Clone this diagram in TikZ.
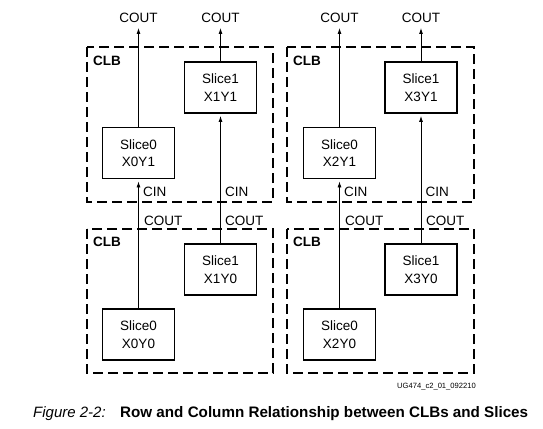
\documentclass[tikz,border=0pt]{standalone}
\usepackage{fontspec}
\setmainfont{Liberation Sans}
\usetikzlibrary{arrows.meta}
\begin{document}
\begin{tikzpicture}[x=1pt,y=-1pt,
  clb/.style={draw,line width=1.8pt,dash pattern=on 10pt off 5pt},
  slice/.style={draw,line width=1.8pt,minimum width=72pt,minimum height=51pt,inner sep=0pt,align=center,font=\fontsize{13.5}{17.5}\selectfont},
  lbl/.style={inner sep=0pt,font=\fontsize{13.5}{15}\selectfont},
  clbl/.style={inner sep=0pt,anchor=base west,font=\fontsize{13.5}{15}\selectfont\bfseries},
  carry/.style={line width=0.8pt,-{Latex[length=6pt,width=4pt]},shorten >=2pt}]
\useasboundingbox (0,0) rectangle (543,428);
% CLB boxes
\draw[clb] (87,47) rectangle (273,202);
\draw[clb] (87,229) rectangle (273,373);
\draw[clb] (287,47) rectangle (474,202);
\draw[clb] (287,229) rectangle (474,373);
\node[clbl] (clb1) at (93,65) {CLB};
\node[clbl] (clb2) at (93,246) {CLB};
\node[clbl] (clb3) at (293,65) {CLB};
\node[clbl] (clb4) at (293,246) {CLB};
% slices
\node[slice] (a0) at (138.5,153) {Slice0\\X0Y1};
\node[slice] (a1) at (220.5,87.5) {Slice1\\X1Y1};
\node[slice] (b1) at (220.5,269.5) {Slice1\\X1Y0};
\node[slice] (b0) at (138.5,334.5) {Slice0\\X0Y0};
\node[slice] (c0) at (339.5,153) {Slice0\\X2Y1};
\node[slice] (c1) at (421,87.5) {Slice1\\X3Y1};
\node[slice] (d1) at (421,269.5) {Slice1\\X3Y0};
\node[slice] (d0) at (339.5,334.5) {Slice0\\X2Y0};
% top outputs
\coordinate (ta0) at (138.5,28);
\coordinate (ta1) at (220.5,28);
\coordinate (tc0) at (339.5,28);
\coordinate (tc1) at (421,28);
\draw[carry,shorten >=0pt] (a0.north) -- (ta0);
\draw[carry,shorten >=0pt] (a1.north) -- (ta1);
\draw[carry,shorten >=0pt] (c0.north) -- (tc0);
\draw[carry,shorten >=0pt] (c1.north) -- (tc1);
\node[lbl,anchor=base] (o1) at (138.5,23) {COUT};
\node[lbl,anchor=base] (o2) at (220.5,23) {COUT};
\node[lbl,anchor=base] (o3) at (339.5,23) {COUT};
\node[lbl,anchor=base] (o4) at (421,23) {COUT};
% carry chains
\draw[carry] (b0.north) -- (a0.south);
\draw[carry] (b1.north) -- (a1.south);
\draw[carry] (d0.north) -- (c0.south);
\draw[carry] (d1.north) -- (c1.south);
\node[lbl,anchor=base west] (ci1) at (143,196) {CIN};
\node[lbl,anchor=base west] (ci2) at (225,196) {CIN};
\node[lbl,anchor=base west] (ci3) at (344,196) {CIN};
\node[lbl,anchor=base west] (ci4) at (425.5,196) {CIN};
\node[lbl,anchor=base west] (co1) at (144,225) {COUT};
\node[lbl,anchor=base west] (co2) at (225,225) {COUT};
\node[lbl,anchor=base west] (co3) at (345,225) {COUT};
\node[lbl,anchor=base west] (co4) at (426,225) {COUT};
% figure id and caption
\node[inner sep=0pt,anchor=base east,font=\fontsize{7.6}{9}\selectfont] (id) at (476,388) {UG474\_c2\_01\_092210};
\node[inner sep=0pt,anchor=base west,font=\fontsize{15}{16}\selectfont\itshape] (fig) at (33,417) {Figure 2-2:};
\node[inner sep=0pt,anchor=base west,font=\fontsize{15.2}{16}\selectfont\bfseries] (cap) at (120,417) {Row and Column Relationship between CLBs and Slices};
\end{tikzpicture}
\end{document}
